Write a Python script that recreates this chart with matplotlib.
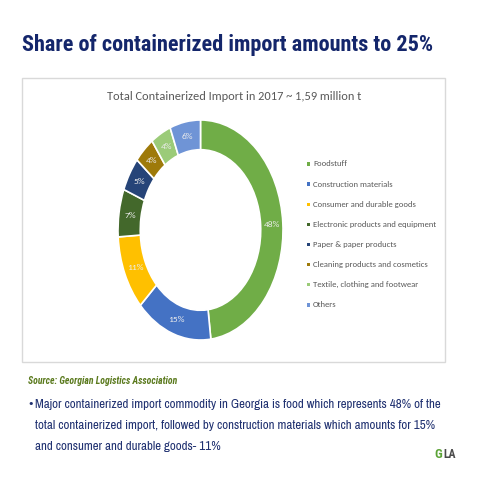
import matplotlib.pyplot as plt
from matplotlib.patches import Rectangle

categories = ['Foodstuff', 'Construction materials', 'Consumer and durable goods',
              'Electronic products and equipment', 'Paper & paper products',
              'Cleaning products and cosmetics', 'Textile, clothing and footwear', 'Others']
shares = [48, 15, 11, 7, 5, 4, 4, 6]
colors = ['#70AD47', '#4472C4', '#FFC000', '#43682B', '#264478', '#9E7A0A', '#9BCB78', '#6F94D6']

title = 'Share of containerized import amounts to 25%'
chart_title = 'Total Containerized Import in 2017 ~ 1,59 million t'
source = 'Source: Georgian Logistics Association'
bullet = ('Major containerized import commodity in Georgia is food which represents 48% of the\n'
          'total containerized import, followed by construction materials which amounts for 15%\n'
          'and consumer and durable goods- 11%')

W, H = 480, 480
fig = plt.figure(figsize=(4.8, 4.8), dpi=100)
fig.patch.set_facecolor('white')

narrow = ['Archivo Narrow', 'Liberation Sans', 'DejaVu Sans']
cond = ['Roboto Condensed', 'Archivo Narrow', 'DejaVu Sans']
calib = ['Carlito', 'DejaVu Sans']

def px(x, y):
    return x / W, 1 - y / H

# chart frame
fig.patches.append(Rectangle(px(22, 362), 423 / W, 284 / H, transform=fig.transFigure,
                             fill=False, edgecolor='#D9D9D9', linewidth=1.0))

fig.text(*px(22, 45), title, fontsize=16, fontweight='bold', color='#14266B',
         family=cond, va='center', ha='left')
fig.text(*px(234, 97), chart_title, fontsize=8.9, color='#595959',
         family=calib, va='center', ha='center')

# donut (slightly stretched vertically, as in the source)
ax = fig.add_axes([118 / W, 1 - 340 / H, 165 / W, 220 / H])
wedges, texts = ax.pie(shares, colors=colors, startangle=90, counterclock=False,
                       radius=1.0, wedgeprops=dict(width=0.27, edgecolor='white', linewidth=1.2),
                       labels=[f'{s}%' for s in shares], labeldistance=0.865,
                       textprops=dict(fontsize=6.8, color='#EDEDED'))
for t in texts:
    t.set_ha('center')
    t.set_va('center')
    t.set_family(calib)
ax.set_aspect('auto')
ax.set_xlim(-1, 1)
ax.set_ylim(-1, 1)
ax.axis('off')

# legend
for i, lab in enumerate(categories):
    y = 164 + i * 20.1
    fig.patches.append(Rectangle(px(306.5, y + 1.8), 3.5 / W, 3.5 / H, transform=fig.transFigure,
                                 facecolor=colors[i], edgecolor='none'))
    fig.text(*px(313, y), lab, fontsize=6.2, color='#595959',
             family=calib, va='center', ha='left')

fig.text(*px(28, 381), source, fontsize=7, fontweight='bold', style='italic',
         color='#5B7A1E', family=cond, va='center', ha='left')

fig.text(*px(27, 404), '\u2022', fontsize=8, color='#1F3070', va='center', ha='left')
fig.text(*px(35, 425.5), bullet, fontsize=9.3, color='#1F3070', family=narrow,
         va='center', ha='left', linespacing=2.1)

# logo
fig.text(*px(442, 455), 'G', fontsize=9.5, fontweight='bold', color='#5BA336',
         family=cond, va='center', ha='right')
fig.text(*px(443, 455), 'LA', fontsize=8.5, fontweight='bold', color='#4A4A4A',
         family=cond, va='center', ha='left')

fig.savefig('out.png', dpi=100, facecolor='white')
